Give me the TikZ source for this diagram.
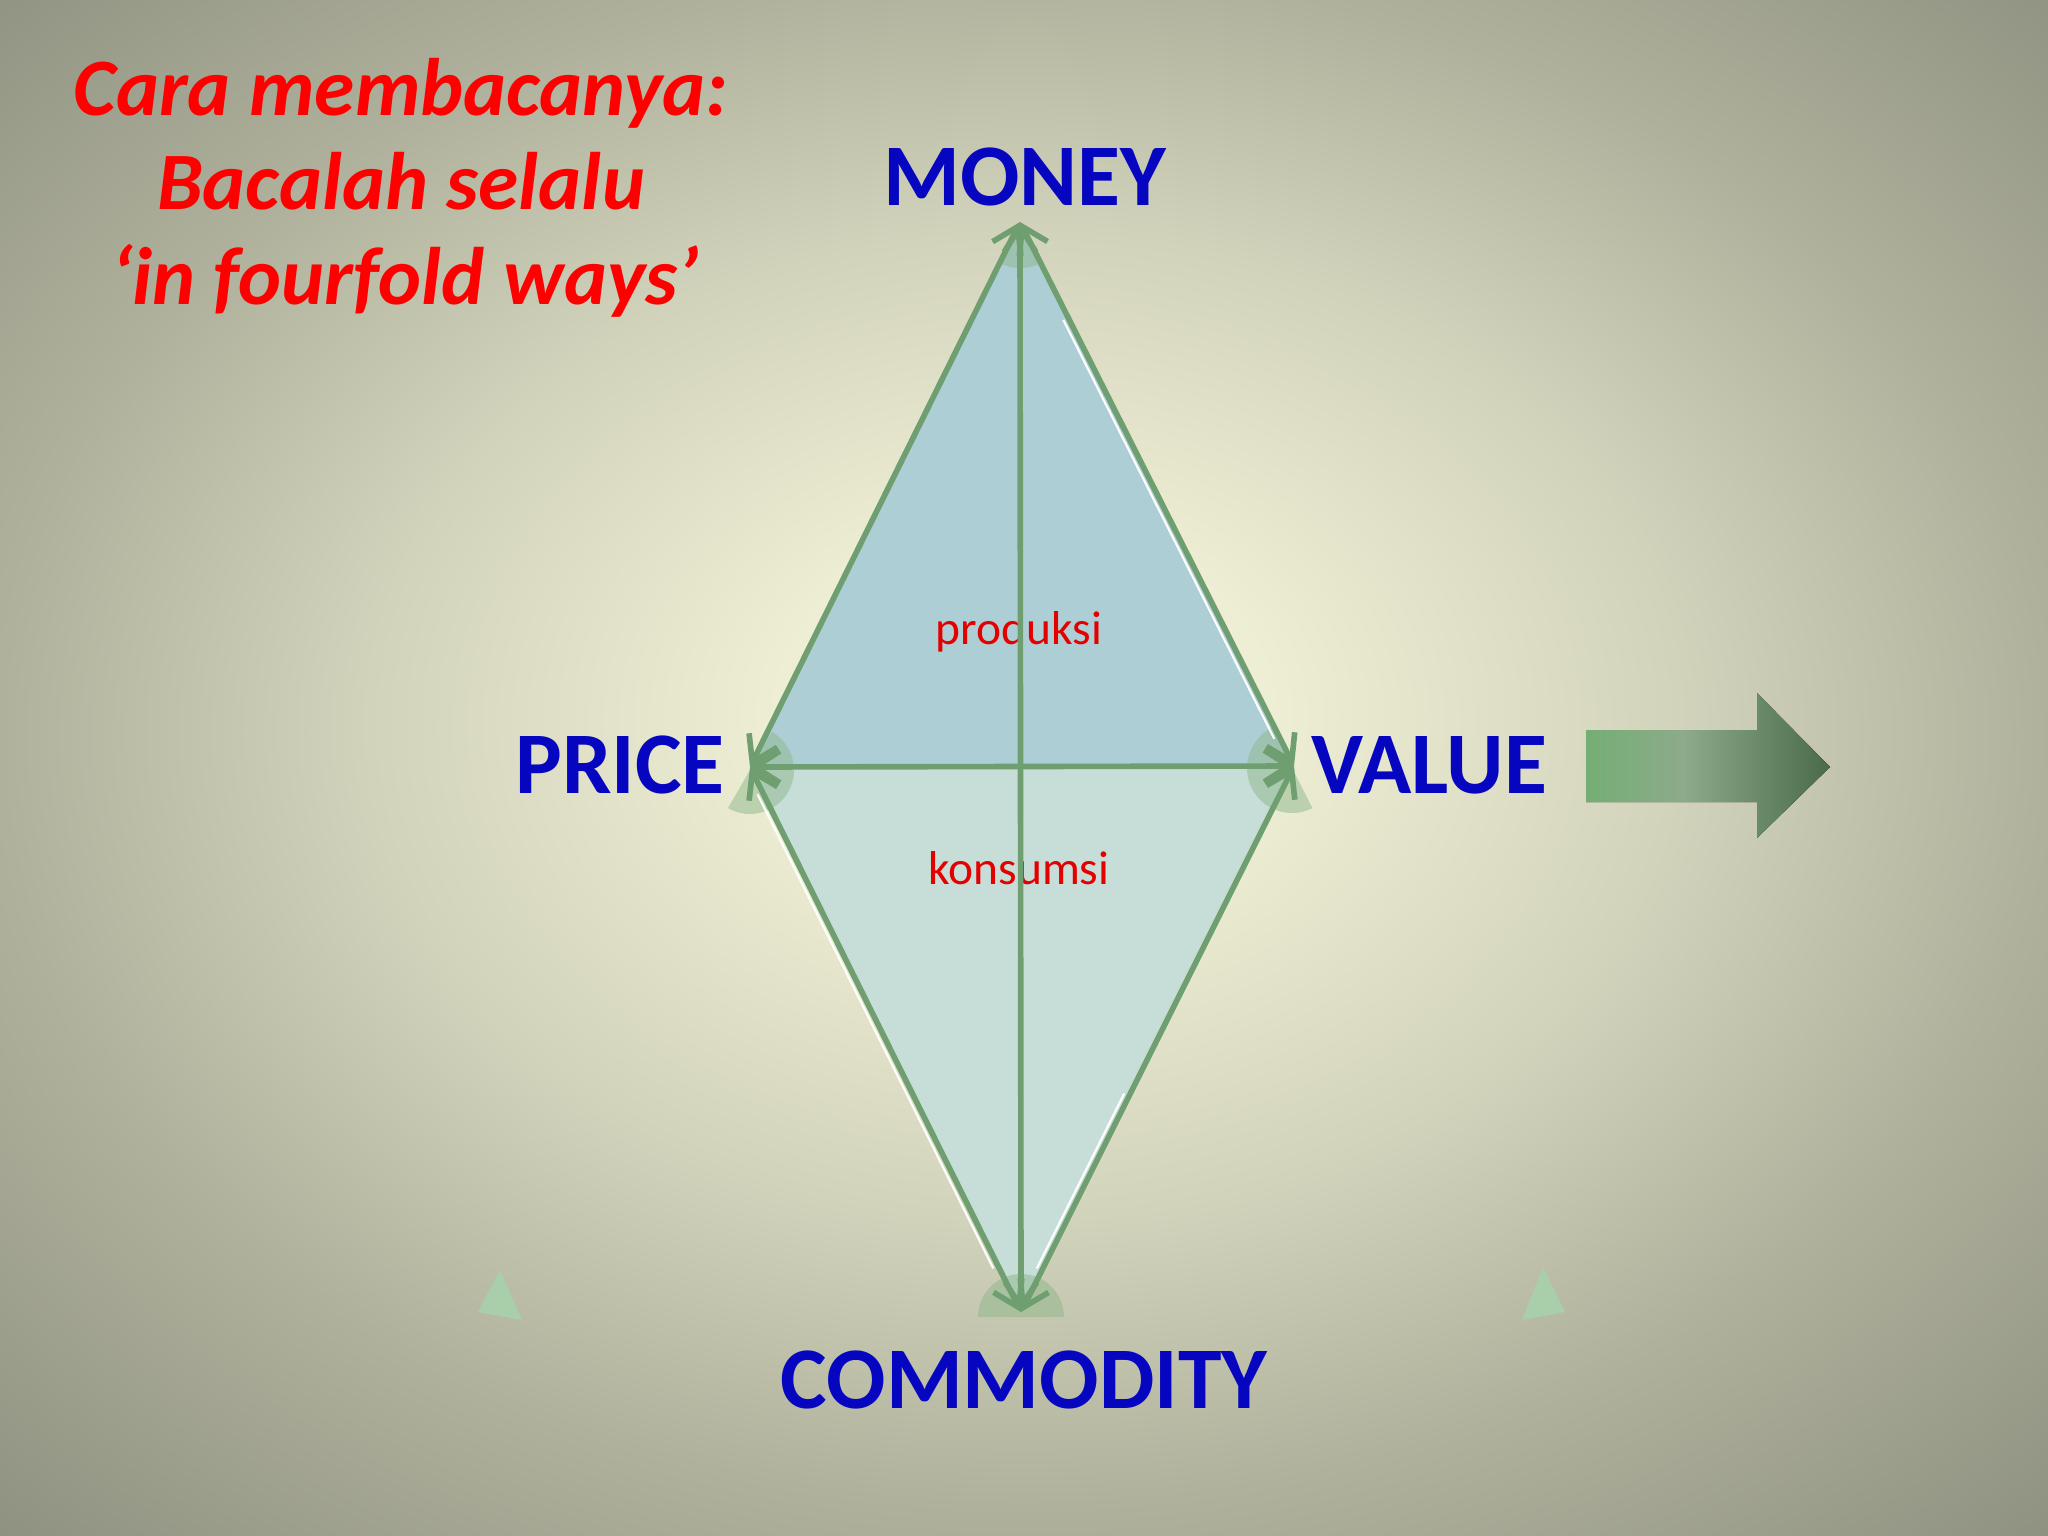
\documentclass[tikz,border=0pt]{standalone}
\usepackage{fontspec}
\setmainfont{Carlito}
\usetikzlibrary{arrows.meta,calc}
\definecolor{bg0}{HTML}{F2F2DC}
\definecolor{bg1}{HTML}{EEEED4}
\definecolor{bg2}{HTML}{D2D3BB}
\definecolor{bg3}{HTML}{AFB19C}
\definecolor{bg4}{HTML}{8E9180}
\definecolor{upfill}{HTML}{AECED6}
\definecolor{lowfill}{HTML}{C6DED7}
\definecolor{edgegreen}{HTML}{6F9F70}
\definecolor{sectgreen}{HTML}{8DB88A}
\definecolor{ghost}{HTML}{A8CFAA}
\definecolor{labblue}{HTML}{0606C0}
\definecolor{ar1}{HTML}{74AE74}
\definecolor{ar2}{HTML}{8DAB8A}
\definecolor{ar3}{HTML}{4A6A48}
\pgfdeclareradialshading{bgshade}{\pgfpoint{0bp}{2bp}}{color(0bp)=(bg0); color(6bp)=(bg1); color(16bp)=(bg2); color(25bp)=(bg3); color(36bp)=(bg4); color(50bp)=(bg4)}
\pgfdeclarehorizontalshading{arrowshade}{100bp}{color(0bp)=(ar1); color(25bp)=(ar1); color(45bp)=(ar2); color(75bp)=(ar3); color(100bp)=(ar3)}
\tikzset{
  redtxt/.style={anchor=base, text=red, font=\fontsize{23.2}{28}\selectfont\bfseries\itshape, inner sep=0pt},
  biglab/.style={anchor=base, text=labblue, font=\fontsize{25}{30}\selectfont\bfseries, inner sep=0pt},
  smalllab/.style={anchor=base, text=red!90!black, font=\fontsize{13.5}{16}\selectfont, inner sep=0pt},
  link/.style={draw=edgegreen, line width=1.6pt, {Straight Barb[length=7pt,width=9pt]}-{Straight Barb[length=7pt,width=9pt]}},
  sector/.style={fill=sectgreen, fill opacity=0.5},
  hilite/.style={draw=white, line width=0.6pt}
}
\begin{document}
\begin{tikzpicture}[x=0.01cm, y=-0.01cm]
\useasboundingbox (0,0) rectangle (2048,1536);
\fill[shading=bgshade] (0,0) rectangle (2048,1536);

% vertices
\coordinate (T) at (1020,222);
\coordinate (L) at (750,767);
\coordinate (R) at (1294,766);
\coordinate (B) at (1021,1312);

% fills
\fill[upfill] (T) -- (L) -- (R) -- cycle;
\fill[lowfill] (L) -- (B) -- (R) -- cycle;

% sectors at vertices (y axis points down: angle 90 is downwards)
\begin{scope}
\clip (T) -- (L) -- (R) -- cycle;
\fill[sector] (T) ++(0:46) arc[start angle=0, end angle=180, radius=46] -- cycle;
\end{scope}
\fill[sector] (750,770) ++(120:44) arc[start angle=120, end angle=-60, radius=44] -- cycle;
\fill[sector] (1292,768) ++(243:45) arc[start angle=243, end angle=63, radius=45] -- cycle;
\fill[sector] (1021,1317) ++(0:43) arc[start angle=0, end angle=-180, radius=43] -- cycle;

% ghost triangles
\fill[ghost] (500,1270) -- (478,1312) -- (522,1320) -- cycle;
\fill[ghost] (1543,1267) -- (1522,1320) -- (1565,1312) -- cycle;

% white highlights
\draw[hilite] ($(T)!0.18!(R)+(-6,0)$) -- ($(T)!0.95!(R)+(-6,0)$);
\draw[hilite] ($(L)!0.05!(B)+(-6,0)$) -- ($(L)!0.92!(B)+(-6,0)$);
\draw[hilite] ($(R)!0.60!(B)+(-6,0)$) -- ($(R)!0.92!(B)+(-6,0)$);

% small labels (under the vertical line)
\node[smalllab] (prod) at (1019,644) {produksi};
\node[smalllab] (kons) at (1019,884) {konsumsi};

% connectors
\draw[link] (T) -- (L);
\draw[link] (T) -- (R);
\draw[link] (L) -- (B);
\draw[link] (R) -- (B);
\draw[link] (L) -- (R);
\draw[link] (T) -- (B);

% big arrow
\fill[shading=arrowshade] (1586,730) -- (1757,730) -- (1757,693) -- (1830,767) -- (1757,838) -- (1757,802) -- (1586,802) -- cycle;

% labels
\node[biglab] (money) at (1025,205) {MONEY};
\node[biglab] (price) at (620,793) {PRICE};
\node[biglab] (value) at (1429,793) {VALUE};
\node[biglab] (commodity) at (1024,1408) {COMMODITY};

% title text
\node[redtxt] (t1) at (401,115) {Cara membacanya:};
\node[redtxt] (t2) at (401,209) {Bacalah selalu};
\node[redtxt] (t3) at (405,304) {‘in fourfold ways’};
\end{tikzpicture}
\end{document}
